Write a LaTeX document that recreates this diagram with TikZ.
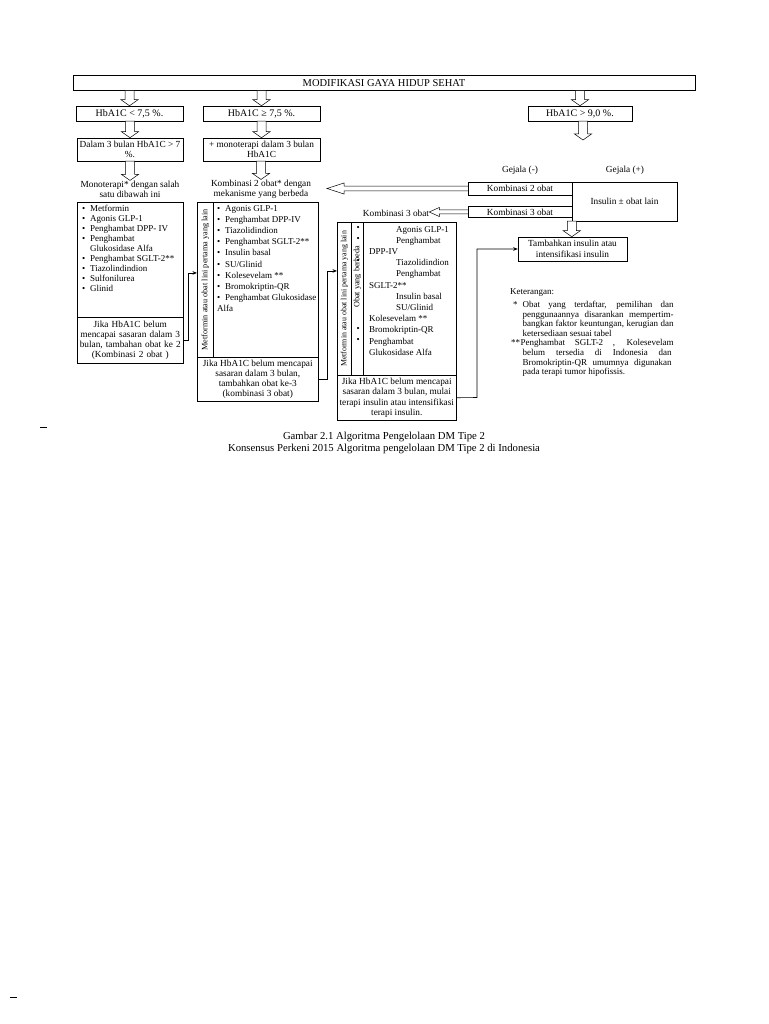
\documentclass[tikz,border=0pt]{standalone}
\usepackage{fontspec}
\setmainfont{Liberation Serif}
\usetikzlibrary{calc,arrows.meta}
\newcommand\bfs{\fontsize{9.3}{10.2}\selectfont}
\newcommand\hfs{\fontsize{10}{11}\selectfont}
\newcommand\tfs{\fontsize{10.5}{12}\selectfont}
\newcommand\cfs{\fontsize{10.7}{12.6}\selectfont}
\newcommand\lfsa{\fontsize{9}{10}\selectfont}
\newcommand\lfsb{\fontsize{9}{11.2}\selectfont}
\newcommand\nfs{\fontsize{9}{9.6}\selectfont}
\newcommand\sfs{\fontsize{8.2}{9}\selectfont}
\newcommand\bl{\makebox[8pt][l]{\textbullet}}
\newcommand\nb{\makebox[8pt]{}}
\newcommand\jl[1]{\makebox[151pt][s]{#1}}
\newcommand\hdown[2]{%
  \draw[harrow] let \p1=(#1), \p2=(#2) in
  (\x2-4.5pt,\y1) -- (\x2+4.5pt,\y1) -- (\x2+4.5pt,\y2+6pt) -- (\x2+8.5pt,\y2+6pt)
  -- (\x2,\y2) -- (\x2-8.5pt,\y2+6pt) -- (\x2-4.5pt,\y2+6pt) -- cycle;}
\newcommand\hleft[5]{%
  \draw[harrow] let \p1=(#1), \p2=(#2) in
  (\x1,\y1+#3) -- (\x2+#5,\y1+#3) -- (\x2+#5,\y1+#4) -- (\x2,\y1)
  -- (\x2+#5,\y1-#4) -- (\x2+#5,\y1-#3) -- (\x1,\y1-#3);}
\begin{document}
\begin{tikzpicture}[x=1pt,y=-1pt,
  box/.style={draw, line width=0.5pt, inner sep=0pt, align=center, font=\bfs},
  strip/.style={draw, line width=0.9pt, inner sep=0pt},
  harrow/.style={draw, fill=white, line width=0.5pt},
  conn/.style={draw, line width=0.6pt, -{Stealth[length=4.5pt,width=3.5pt]}},
  lst/.style={inner sep=0pt, align=left},
  txt/.style={inner sep=0pt, align=center, font=\bfs},
  note/.style={inner sep=0pt, align=left, font=\nfs, anchor=north west}]
\fill[white] (0,0) rectangle (768,1024);
\useasboundingbox (0,0) rectangle (768,1024);

% top
\node[box, font=\tfs, minimum width=622, minimum height=15] (top) at (384,83) {MODIFIKASI GAYA HIDUP SEHAT};
\node[box, font=\hfs, minimum width=107, minimum height=15] (h1) at (129.5,113.5) {HbA1C < 7,5 \%.};
\node[box, font=\hfs, minimum width=117, minimum height=15] (h2) at (261.5,113.5) {HbA1C ≥ 7,5 \%.};
\node[box, font=\hfs, minimum width=104, minimum height=15] (h3) at (580,113.5) {HbA1C > 9,0 \%.};
\node[box, minimum width=106, minimum height=23] (d1) at (130,149.5) {Dalam 3 bulan HbA1C > 7\\\%.};
\node[box, minimum width=117, minimum height=23] (d2) at (261.5,149.5) {+ monoterapi dalam 3 bulan\\HbA1C};
\coordinate (h3end) at (583,140);

\hdown{top.south}{h1.north}
\hdown{top.south}{h2.north}
\hdown{top.south}{h3.north}
\hdown{h1.south}{d1.north}
\hdown{h2.south}{d2.north}
\hdown{h3.south}{h3end}

\node[txt] (t1) at (130,189) {Monoterapi* dengan salah\\satu dibawah ini};
\node[txt] (t2) at (261,189) {Kombinasi 2 obat* dengan\\mekanisme yang berbeda};
\hdown{d1.south}{t1.north}
\hdown{d2.south}{t2.north}

% box 1
\node[box, anchor=north west, minimum width=106, minimum height=115] (b1) at (77,202) {};
\node[box, anchor=north west, minimum width=106, minimum height=46, text width=104] (b1b) at (77,317)
  {Jika HbA1C belum\\mencapai sasaran dalam 3\\bulan, tambahan obat ke 2\\(Kombinasi 2 obat )};
\node[lst, font=\lfsa, anchor=north west] (l1) at (82,204.5)
  {\bl Metformin\\\bl Agonis GLP-1\\\bl Penghambat DPP- IV\\\bl Penghambat\\\nb Glukosidase Alfa\\\bl Penghambat SGLT-2**\\\bl Tiazolindindion\\\bl Sulfonilurea\\\bl Glinid};

% box 2
\node[box, anchor=north west, minimum width=121, minimum height=155] (b2) at (197,202) {};
\node[strip, anchor=north west, minimum width=16, minimum height=155] (s2) at (197,202) {};
\node[rotate=90, font=\sfs, inner sep=0pt] (r2) at (s2.center) {Metformin atau obat lini pertama yang lain};
\node[box, anchor=north west, minimum width=121, minimum height=44] (b2b) at (197,357)
  {Jika HbA1C belum mencapai\\sasaran dalam 3 bulan,\\tambahkan obat ke-3\\(kombinasi 3 obat)};
\node[lst, font=\lfsb, anchor=north west] (l2) at (217,205)
  {\bl Agonis GLP-1\\\bl Penghambat DPP-IV\\\bl Tiazolidindion\\\bl Penghambat SGLT-2**\\\bl Insulin basal\\\bl SU/Glinid\\\bl Kolesevelam **\\\bl Bromokriptin-QR\\\bl Penghambat Glukosidase\\Alfa};

% box 3
\node[box, anchor=north west, minimum width=119, minimum height=153] (b3) at (337,222) {};
\node[strip, anchor=north west, minimum width=14, minimum height=153] (s31) at (337,222) {};
\node[strip, anchor=north west, minimum width=12, minimum height=153] (s32) at (351,222) {};
\node[rotate=90, font=\fontsize{7.9}{9}\selectfont, inner sep=0pt] (r31) at (s31.center) {Metformin atau obat lini pertama yang lain};
\node[rotate=90, font=\sfs, inner sep=0pt] (r32) at ([yshift=22pt]s32.center) {Obat yang berbeda};
\node[box, anchor=north west, minimum width=119, minimum height=45] (b3b) at (337,375)
  {Jika HbA1C belum mencapai\\sasaran dalam 3 bulan, mulai\\terapi insulin atau intensifikasi\\terapi insulin.};
\node[lst, font=\lfsb, anchor=north west] (l3) at (369,226)
  {\hspace*{27pt}Agonis GLP-1\\\hspace*{27pt}Penghambat\\DPP-IV\\\hspace*{27pt}Tiazolidindion\\\hspace*{27pt}Penghambat\\SGLT-2**\\\hspace*{27pt}Insulin basal\\\hspace*{27pt}SU/Glinid\\Kolesevelam **\\Bromokriptin-QR\\Penghambat\\Glukosidase Alfa};
\node[lst, font=\lfsb, anchor=north west] (bu3) at (356.5,226)
  {\textbullet\\\textbullet\\\strut\\\textbullet\\\strut\\\strut\\\strut\\\strut\\\strut\\\textbullet\\\textbullet};

% right side
\node[txt] (gm) at (520,170) {Gejala (-)};
\node[txt] (gp) at (625,170) {Gejala (+)};
\node[box, minimum width=104, minimum height=13] (k2) at (520,188.5) {Kombinasi 2 obat};
\node[box, minimum width=104, minimum height=11] (k3) at (520,212) {Kombinasi 3 obat};
\node[box, minimum width=105, minimum height=39] (ins) at (624.5,201.5) {Insulin ± obat lain};
\node[box, minimum width=109, minimum height=24, font=\fontsize{9.3}{11}\selectfont] (tam) at (572.5,249) {Tambahkan insulin atau\\intensifikasi insulin};
\node[txt] (t3) at (396,213) {Kombinasi 3 obat};
\coordinate (k2tip) at (327,187.5);

\hleft{k2.west}{k2tip}{2.3pt}{5.5pt}{17pt}
\hleft{k3.west}{t3.east}{2pt}{4.5pt}{10pt}
\hdown{ins.south}{tam.north -| ins.west}

% connectors
\draw[conn] (b1b.east) -- ++(5,0) |- ([yshift=7pt]s2.west);
\draw[conn] (b2b.east) -- ++(9,0) |- ([yshift=28pt]s31.west);
\draw[conn] (b3b.east) -- (477,397.5) |- (tam.west);

% notes
\node[note] (ket) at (510,288) {Keterangan:};
\node[note] (st1) at (513,301) {*};
\node[note] (n1) at (522.5,301)
  {\jl{Obat yang terdaftar, pemilihan dan}\\\jl{penggunaannya disarankan mempertim-}\\\jl{bangkan faktor keuntungan, kerugian dan}\\ketersediaan sesuai tabel};
\node[note] (st2) at (511,339.5) {**};
\node[note] (n2) at (520.5,339.5)
  {\makebox[153pt][s]{Penghambat SGLT-2 , Kolesevelam}\\\jl{\hspace*{2pt}belum tersedia di Indonesia dan}\\\jl{\hspace*{2pt}Bromokriptin-QR umumnya digunakan}\\\hspace*{2pt}pada terapi tumor hipofissis.};

% caption
\node[inner sep=0pt, align=center, font=\cfs] (cap) at (384,443)
  {Gambar 2.1 Algoritma Pengelolaan DM Tipe 2\\Konsensus Perkeni 2015 Algoritma pengelolaan DM Tipe 2 di Indonesia};

\draw[line width=0.8pt] (40,427) -- (47,427);
\draw[line width=0.8pt] (10,997) -- (17,997);
\end{tikzpicture}
\end{document}
